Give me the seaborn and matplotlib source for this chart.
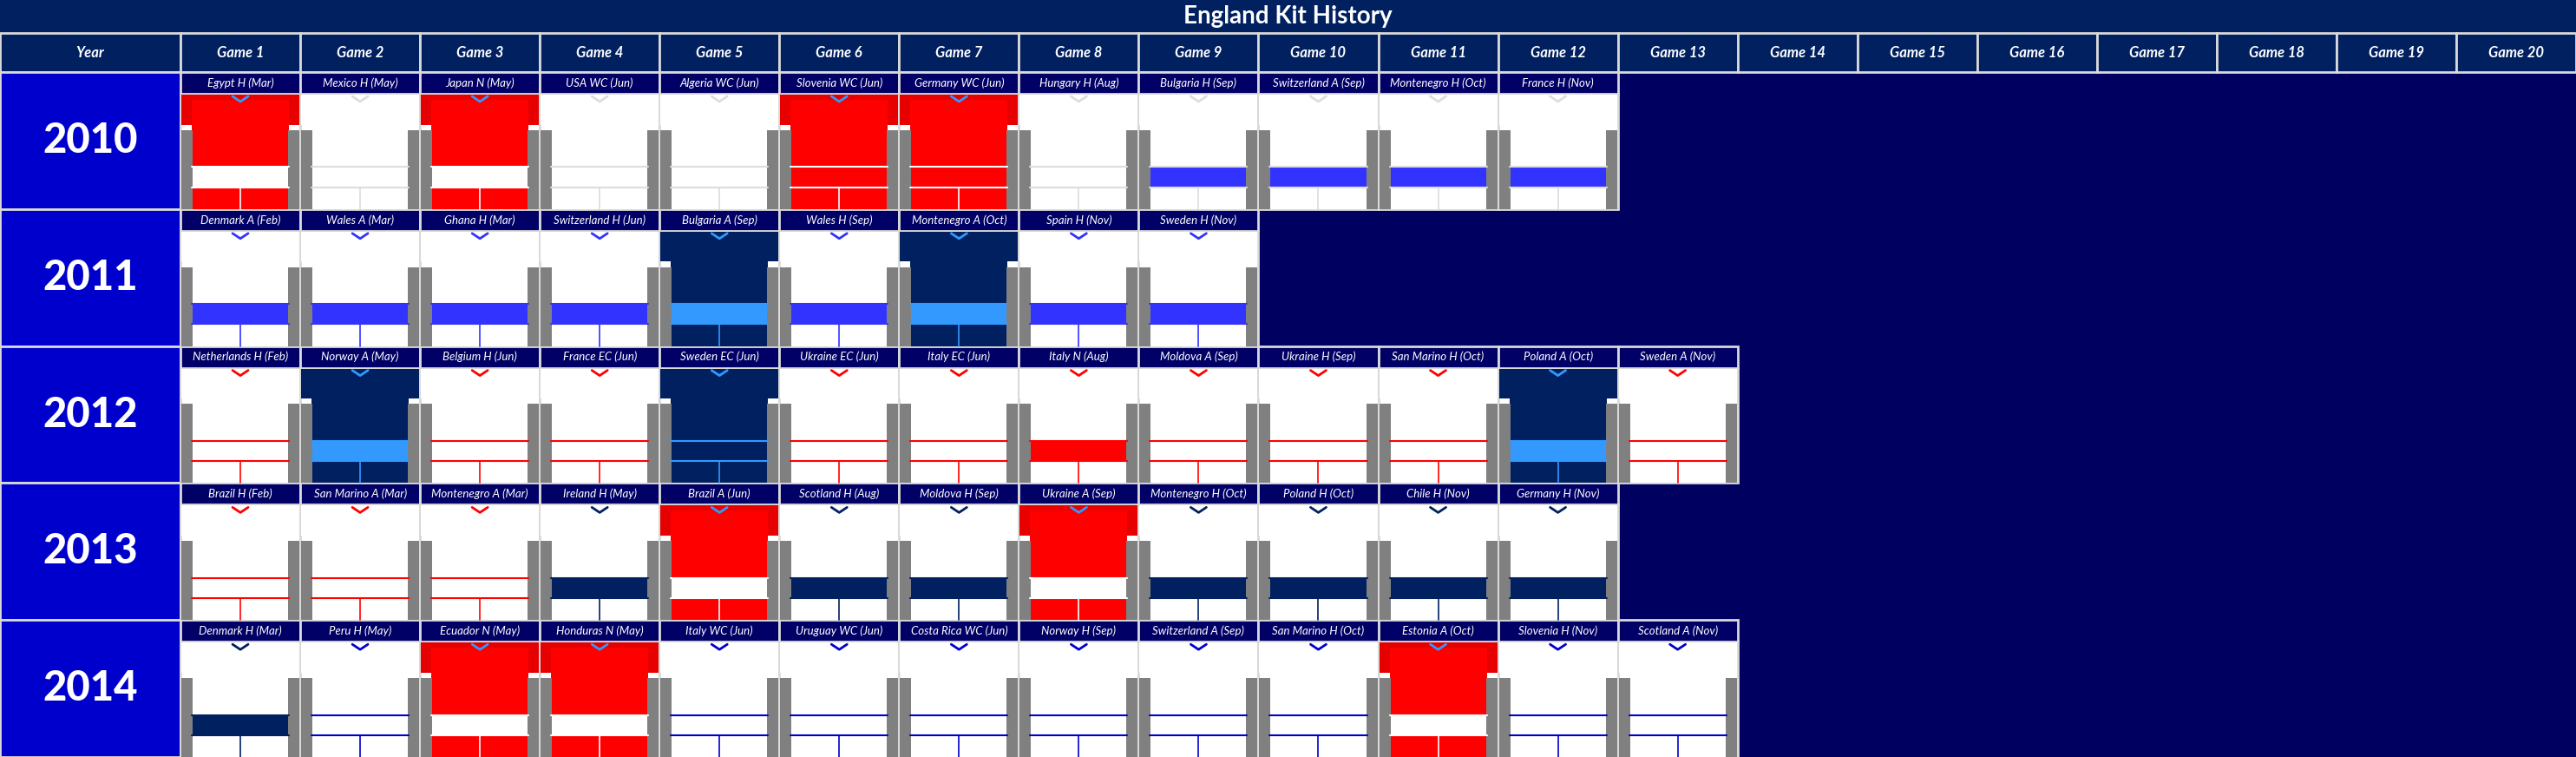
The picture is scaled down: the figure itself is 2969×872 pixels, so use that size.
import matplotlib
matplotlib.use("Agg")
import matplotlib.pyplot as plt
import matplotlib.patches as mpatches
import seaborn as sns

sns.set_style("white")
plt.rcParams['font.family'] = ['Lato', 'DejaVu Sans']

# ---- data ----
years = [2010, 2011, 2012, 2013, 2014]
n_games = 20

labels_2010 = ["Egypt H (Mar)", "Mexico H (May)", "Japan N (May)", "USA WC (Jun)", "Algeria WC (Jun)",
               "Slovenia WC (Jun)", "Germany WC (Jun)", "Hungary H (Aug)", "Bulgaria H (Sep)",
               "Switzerland A (Sep)", "Montenegro H (Oct)", "France H (Nov)"]
shirts_2010 = ["R", "W", "R", "W", "W", "R", "R", "W", "W", "W", "W", "W"]
shorts_2010 = ["W", "W", "W", "W", "W", "R", "R", "W", "B", "B", "B", "B"]
socks_2010 = ["R", "W", "R", "W", "W", "R", "R", "W", "W", "W", "W", "W"]

labels_2011 = ["Denmark A (Feb)", "Wales A (Mar)", "Ghana H (Mar)", "Switzerland H (Jun)", "Bulgaria A (Sep)",
               "Wales H (Sep)", "Montenegro A (Oct)", "Spain H (Nov)", "Sweden H (Nov)"]
shirts_2011 = ["W", "W", "W", "W", "N", "W", "N", "W", "W"]
shorts_2011 = ["B", "B", "B", "B", "L", "B", "L", "B", "B"]
socks_2011 = ["W", "W", "W", "W", "N", "W", "N", "W", "W"]

labels_2012 = ["Netherlands H (Feb)", "Norway A (May)", "Belgium H (Jun)", "France EC (Jun)", "Sweden EC (Jun)",
               "Ukraine EC (Jun)", "Italy EC (Jun)", "Italy N (Aug)", "Moldova A (Sep)", "Ukraine H (Sep)",
               "San Marino H (Oct)", "Poland A (Oct)", "Sweden A (Nov)"]
shirts_2012 = ["W", "N", "W", "W", "N", "W", "W", "W", "W", "W", "W", "N", "W"]
shorts_2012 = ["W", "L", "W", "W", "N", "W", "W", "R", "W", "W", "W", "L", "W"]
socks_2012 = ["W", "N", "W", "W", "N", "W", "W", "W", "W", "W", "W", "N", "W"]

labels_2013 = ["Brazil H (Feb)", "San Marino A (Mar)", "Montenegro A (Mar)", "Ireland H (May)", "Brazil A (Jun)",
               "Scotland H (Aug)", "Moldova H (Sep)", "Ukraine A (Sep)", "Montenegro H (Oct)", "Poland H (Oct)",
               "Chile H (Nov)", "Germany H (Nov)"]
shirts_2013 = ["W", "W", "W", "W", "R", "W", "W", "R", "W", "W", "W", "W"]
shorts_2013 = ["W", "W", "W", "N", "W", "N", "N", "W", "N", "N", "N", "N"]
socks_2013 = ["W", "W", "W", "W", "R", "W", "W", "R", "W", "W", "W", "W"]

labels_2014 = ["Denmark H (Mar)", "Peru H (May)", "Ecuador N (May)", "Honduras N (May)", "Italy WC (Jun)",
               "Uruguay WC (Jun)", "Costa Rica WC (Jun)", "Norway H (Sep)", "Switzerland A (Sep)",
               "San Marino H (Oct)", "Estonia A (Oct)", "Slovenia H (Nov)", "Scotland A (Nov)"]
shirts_2014 = ["W", "W", "R", "R", "W", "W", "W", "W", "W", "W", "R", "W", "W"]
shorts_2014 = ["N", "W", "W", "W", "W", "W", "W", "W", "W", "W", "W", "W", "W"]
socks_2014 = ["W", "W", "R", "R", "W", "W", "W", "W", "W", "W", "R", "W", "W"]

trim_by_year = {2010: "#DDDDDD", 2011: "#3333FF", 2012: "#FF0000", 2013: "#FF0000", 2014: "#0000CC"}

all_labels = [labels_2010, labels_2011, labels_2012, labels_2013, labels_2014]
all_shirts = [shirts_2010, shirts_2011, shirts_2012, shirts_2013, shirts_2014]
all_shorts = [shorts_2010, shorts_2011, shorts_2012, shorts_2013, shorts_2014]
all_socks = [socks_2010, socks_2011, socks_2012, socks_2013, socks_2014]

palette = {"R": "#FF0000", "W": "#FFFFFF", "B": "#3333FF", "N": "#002060", "L": "#3399FF"}
sleeve_pal = {"R": "#E60000", "W": "#FFFFFF", "N": "#002060"}

# ---- layout ----
W, H = 2969, 872
title_h = 38
head_h = 45
year_w = 208
col_w = (W - year_w) / n_games
row_h = (H - title_h - head_h) / len(years)
lab_h = 25
bar_w = 13
grid_c = "#D9D9D9"

fig = plt.figure(figsize=(W / 100, H / 100), dpi=100)
ax = fig.add_axes([0, 0, 1, 1])
ax.set_xlim(0, W)
ax.set_ylim(H, 0)
ax.axis("off")
fig.patch.set_facecolor("#000060")


def rect(x, y, w, h, fc, ec="none", lw=0, z=1):
    ax.add_patch(mpatches.Rectangle((x, y), w, h, facecolor=fc, edgecolor=ec, linewidth=lw, zorder=z))


# title
rect(0, 0, W, title_h, "#002060")
ax.text(W / 2, title_h / 2, "England Kit History", color="white", fontsize=20, fontweight="bold",
        ha="center", va="center")

# header row
rect(0, title_h, year_w, head_h, "#002060", grid_c, 2)
ax.text(year_w / 2, title_h + head_h / 2, "Year", color="white", fontsize=12, fontweight="bold",
        style="italic", ha="center", va="center")
for g in range(n_games):
    x = year_w + g * col_w
    rect(x, title_h, col_w, head_h, "#002060", grid_c, 2)
    ax.text(x + col_w / 2, title_h + head_h / 2, f"Game {g + 1}", color="white", fontsize=12,
            fontweight="bold", style="italic", ha="center", va="center")

# rows
for r, yr in enumerate(years):
    y0 = title_h + head_h + r * row_h
    rect(0, y0, year_w, row_h, "#0000CC", grid_c, 2)
    ax.text(year_w / 2, y0 + row_h / 2, str(yr), color="white", fontsize=34, fontweight="black",
            ha="center", va="center")
    trim = trim_by_year[yr]
    for g, lab in enumerate(all_labels[r]):
        x0 = year_w + g * col_w
        shirt, shorts, sock = all_shirts[r][g], all_shorts[r][g], all_socks[r][g]
        rect(x0, y0, col_w, lab_h, "#000066", grid_c, 2, z=2)
        ax.text(x0 + col_w / 2, y0 + lab_h / 2, lab, color="white", fontsize=9.5, style="italic",
                ha="center", va="center", zorder=5)
        t = y0 + lab_h
        h = row_h - lab_h
        rect(x0, t, col_w, h, "white", grid_c, 2, z=1)
        # shoulders
        rect(x0 + 1, t + 1, col_w - 2, 0.26 * h, sleeve_pal[shirt], z=2)
        ix, iw = x0 + bar_w, col_w - 2 * bar_w
        # body, shorts, socks
        rect(ix, t + 0.05 * h, iw, 0.59 * h, palette[shirt], z=3)
        rect(ix, t + 0.636 * h, iw, 0.174 * h, palette[shorts], z=3)
        rect(ix, t + 0.81 * h, iw, 0.19 * h, palette[sock], z=3)
        # sleeves / arms
        rect(x0 + 1, t + 0.315 * h, bar_w, 0.685 * h, "#808080", z=4)
        rect(x0 + col_w - bar_w - 1, t + 0.315 * h, bar_w, 0.685 * h, "#808080", z=4)
        # trim lines
        lc = trim if shirt == "W" else ("#FFFFFF" if shirt == "R" else "#3399FF")
        if shirt == "W" and shorts == "N":
            lc = "#002060"
        ax.plot([ix, ix + iw], [t + 0.636 * h] * 2, color=lc, lw=1.5, zorder=5)
        ax.plot([ix, ix + iw], [t + 0.81 * h] * 2, color=lc, lw=1.5, zorder=5)
        ax.plot([x0 + col_w / 2] * 2, [t + 0.81 * h, t + h], color=lc, lw=1.2, zorder=5)
        # collar
        ax.plot([x0 + col_w / 2 - 9, x0 + col_w / 2, x0 + col_w / 2 + 9],
                [t + 3, t + 9, t + 3], color=lc if shirt == "W" else "#3399FF", lw=2, zorder=5)

fig.savefig("out.png", dpi=100, facecolor=fig.get_facecolor())
